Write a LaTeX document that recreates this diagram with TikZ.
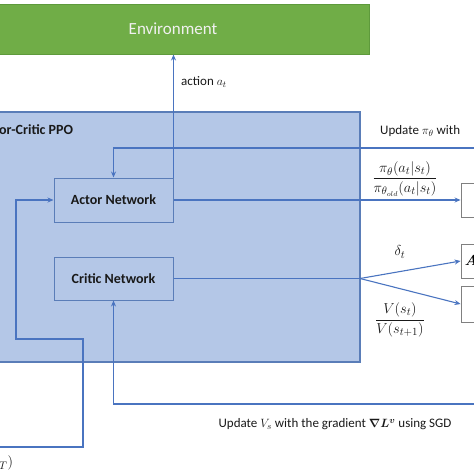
\documentclass[tikz,border=0pt]{standalone}
\usepackage{fontspec}
\usepackage{amsmath,amssymb,bm}
\setmainfont{Carlito}
\usetikzlibrary{arrows.meta}
\definecolor{envgreen}{HTML}{70AD47}
\definecolor{envborder}{HTML}{5E9A3C}
\definecolor{ppofill}{HTML}{B4C7E7}
\definecolor{ppoborder}{HTML}{5A7DB8}
\definecolor{linkblue}{HTML}{4A74C0}
\definecolor{boxgray}{HTML}{808080}
\tikzset{
  envbox/.style={draw=envborder, line width=1pt, fill=envgreen, text=white!94!black, font=\fontsize{17}{20}\selectfont, inner sep=0pt},
  ppobox/.style={draw=ppoborder, line width=1.1pt, fill=ppofill, inner sep=0pt},
  netbox/.style={draw=ppoborder, line width=1pt, fill=ppofill, font=\bfseries\fontsize{14}{16}\selectfont, inner sep=0pt, text=black!90},
  rbox/.style={draw=boxgray, line width=0.9pt, fill=white, inner sep=0pt},
  lbl/.style={font=\fontsize{13}{15}\selectfont, inner sep=0pt, text=black!90},
  mlbl/.style={font=\fontsize{15}{17}\selectfont, inner sep=0pt, text=black!90},
  link/.style={draw=linkblue, line width=1.1pt},
  arr/.style={link, -{Stealth[length=6pt,width=5pt]}},
}
\begin{document}
\begin{tikzpicture}[x=1pt,y=-1pt]
\useasboundingbox (0,0) rectangle (474,474);
\clip (0,0) rectangle (474,474);
% main boxes
\node[envbox, minimum width=392pt, minimum height=50pt] (env) at (173,29) {Environment};
\node[ppobox, minimum width=380pt, minimum height=250pt] (ppo) at (170,237) {};
\node[font=\bfseries\fontsize{14}{16}\selectfont, inner sep=0pt, anchor=west, text=black!90] (ppotitle) at (-1,130) {or-Critic PPO};
\node[netbox, minimum width=119pt, minimum height=44pt] (actor) at (113.5,200) {Actor Network};
\node[netbox, minimum width=119pt, minimum height=43pt] (critic) at (113.5,278.5) {Critic Network};
% right boxes
\node[rbox, minimum width=40pt, minimum height=34pt] (ratio) at (481,200) {};
\node[rbox, minimum width=40pt, minimum height=34pt] (abox) at (481,261) {};
\node[rbox, minimum width=40pt, minimum height=36pt] (vbox) at (481,304) {};
\node[inner sep=0pt, anchor=west, font=\fontsize{14}{16}\selectfont] (alabel) at ([xshift=4pt]abox.west) {$\boldsymbol{A}$};
% action
\draw[arr] (actor.north east) -- (actor.north east |- env.south);
\node[lbl, anchor=west] (actlbl) at (181,82) {action $a_t$};
% update pi
\coordinate (upi) at (480,148);
\draw[arr] (upi) -| (actor.north);
\node[lbl, anchor=west] (upilbl) at (380,131) {Update $\pi_\theta$ with};
% actor to ratio
\draw[arr] (actor.east) -- (ratio.west);
\node[mlbl] (ratiolbl) at (405,179) {$\dfrac{\pi_\theta(a_t|s_t)}{\pi_{\theta_{old}}(a_t|s_t)}$};
% left feedback
\coordinate (rT) at (-5,447);
\draw[arr] (rT) -- (83,447) -- (83,339) -- (16,339) -- (16,200) -- (actor.west);
\node[mlbl, anchor=west] (rTlbl) at (-1,463) {${}_T)$};
% critic update
\coordinate (uv) at (480,404);
\draw[arr] (uv) -| (critic.south);
\node[lbl] (uvlbl) at (335,424) {Update $V_s$ with the gradient $\boldsymbol{\nabla L^v}$ using SGD};
% critic outputs
\coordinate (split) at (360,278.5);
\draw[link] (critic.east) -- (split);
\draw[arr] (split) -- (abox.west);
\draw[arr] (split) -- (vbox.west);
\node[mlbl] (deltalbl) at (400,252) {$\delta_t$};
\node[mlbl] (vlbl) at (400,320) {$\dfrac{V(s_t)}{V(s_{t+1})}$};
\end{tikzpicture}
\end{document}
